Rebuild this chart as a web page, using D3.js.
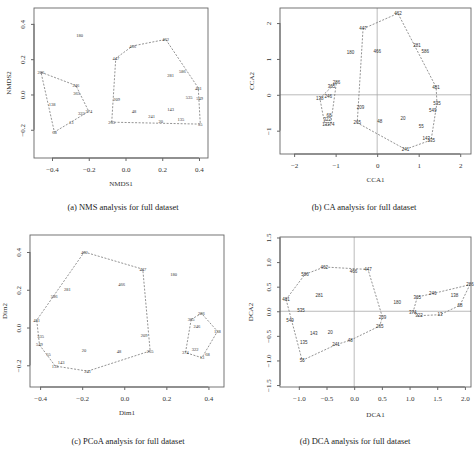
<!DOCTYPE html>
<html><head><meta charset="utf-8">
<script src="https://cdn.jsdelivr.net/npm/d3@7"></script>
<style>body{margin:0;background:#fff}svg text{font-family:"Liberation Serif",serif}</style>
</head><body><svg id="c" width="474" height="474"></svg>
<script>
// [label, x, y]
const nmsPoints = [["180",-0.25,0.332],["286",-0.46,0.126],["246",-0.27,0.051],["365",-0.266,0.004],["138",-0.4,-0.058],["374",-0.2,-0.096],["322",-0.24,-0.106],["13",-0.295,-0.157],["68",-0.387,-0.213],
  ["447",-0.053,0.205],["466",0.039,0.275],["462",0.219,0.312],["281",0.246,0.11],["586",0.309,0.128],["481",0.396,0.037],["535",0.346,-0.015],["549",0.404,-0.024],["209",-0.048,-0.03],["48",0.046,-0.096],["143",0.246,-0.083],["241",0.142,-0.125],["20",0.192,-0.153],["135",0.301,-0.143],["265",-0.075,-0.157],["55",0.407,-0.168]];
const nmsHulls = [["286","246","374","68"],["265","447","466","462","481","55"]];

const caPoints = [["462",0.5,2.27],["447",-0.34,1.84],["180",-0.64,1.19],["466",0,1.22],["281",0.96,1.38],["586",1.16,1.2],["481",1.42,0.21],["535",1.44,-0.23],["549",1.34,-0.44],["209",-0.4,-0.34],["20",0.62,-0.65],["48",0.06,-0.73],["55",1.06,-0.87],["265",-0.48,-0.78],["143",1.18,-1.22],["135",1.3,-1.26],["241",0.68,-1.52],
  ["286",-0.98,0.35],["365",-1.1,0.22],["246",-1.18,-0.04],["138",-1.38,-0.1],["68",-1.16,-0.57],["322",-1.2,-0.69],["13",-1.26,-0.83],["374",-1.12,-0.83]];
const caHulls = [["138","365","286","374","13"],["447","462","481","535","135","241","265"]];

const pcoaPoints = [["462",-0.19,0.4],["447",0.088,0.309],["180",0.234,0.279],["466",-0.012,0.229],["281",-0.27,0.204],["586",-0.333,0.167],["481",-0.416,0.039],["535",-0.397,-0.046],["549",-0.403,-0.092],["55",-0.36,-0.144],["143",-0.3,-0.183],["135",-0.328,-0.204],["241",-0.174,-0.231],["20",-0.191,-0.121],["48",-0.025,-0.124],["209",0.094,-0.041],["265",0.123,-0.124],
  ["286",0.367,0.075],["365",0.318,0.043],["246",0.345,0.004],["138",0.443,-0.02],["322",0.337,-0.115],["374",0.291,-0.133],["68",0.396,-0.144],["13",0.369,-0.16]];
const pcoaHulls = [["462","447","265","241","135","549","481"],["365","286","138","13","374"]];

const dcaPoints = [["462",-0.54,0.9],["586",-0.89,0.75],["466",-0.01,0.82],["447",0.25,0.85],["481",-1.23,0.24],["281",-0.63,0.33],["535",-0.96,0.02],["549",-1.16,-0.18],["143",-0.73,-0.45],["20",-0.43,-0.43],["135",-0.91,-0.64],["241",-0.33,-0.68],["48",-0.07,-0.59],["55",-0.94,-1.0],["209",0.51,-0.12],["265",0.46,-0.3],["180",0.78,0.18],
  ["365",1.14,0.29],["246",1.42,0.36],["138",1.81,0.33],["286",2.09,0.54],["68",1.91,0.12],["374",1.06,-0.03],["322",1.17,-0.09],["13",1.55,-0.07]];
const dcaHulls = [["481","586","462","447","209","265","48","241","55"],["374","365","246","286","68","13","322"]];

const panels = [
  {pts:nmsPoints, hulls:nmsHulls, box:[34,8,208,158], xd:[-0.498,0.449], yd:[-0.36,0.49], xt:[-0.4,-0.2,0,0.2,0.4], yt:[-0.2,0,0.2,0.4], f:".1f", xl:"NMDS1", yl:"NMDS2", xly:186, ylx:9, cap:"(a) NMS analysis for full dataset", capx:123, capy:210, sans:false, cross:false},
  {pts:caPoints, hulls:caHulls, box:[280,8,471,154], xd:[-2.34,2.26], yd:[-1.65,2.42], xt:[-2,-1,0,1,2], yt:[-1,0,1,2], f:"d", xl:"CCA1", yl:"CCA2", xly:182, ylx:252, cap:"(b) CA analysis for full dataset", capx:364, capy:210, sans:true, cross:true},
  {pts:pcoaPoints, hulls:pcoaHulls, box:[30,235,224,387], xd:[-0.448,0.474], yd:[-0.315,0.49], xt:[-0.4,-0.2,0,0.2,0.4], yt:[-0.2,0,0.2,0.4], f:".1f", xl:"Dim1", yl:"Dim2", xly:415, ylx:5, cap:"(c) PCoA analysis for full dataset", capx:128, capy:444, sans:false, cross:false},
  {pts:dcaPoints, hulls:dcaHulls, box:[280,237,471,387], xd:[-1.34,2.11], yd:[-1.54,1.51], xt:[-1,-0.5,0,0.5,1,1.5,2], yt:[-1.5,-1,-0.5,0,0.5,1,1.5], f:".1f", xl:"DCA1", yl:"DCA2", xly:417, ylx:251, cap:"(d) DCA analysis for full dataset", capx:355, capy:444, sans:true, cross:true}
];

const svg = d3.select("#c");

function drawPanel(p) {
  const [x0,y0,x1,y1] = p.box;
  const x = d3.scaleLinear().domain(p.xd).range([x0,x1]);
  const y = d3.scaleLinear().domain(p.yd).range([y1,y0]);
  const g = svg.append("g");
  const fmt = d3.format(p.f);

  if (p.cross) {
    g.append("line").attr("x1",x(0)).attr("x2",x(0)).attr("y1",y0).attr("y2",y1).attr("stroke","#aaa").attr("stroke-width",0.8);
    g.append("line").attr("x1",x0).attr("x2",x1).attr("y1",y(0)).attr("y2",y(0)).attr("stroke","#aaa").attr("stroke-width",0.8);
  }

  const byLabel = new Map(p.pts.map(d => [d[0], d]));
  p.hulls.forEach(h => {
    const pts = h.map(l => byLabel.get(l));
    g.append("path")
      .attr("d", d3.line().x(d => x(d[1])).y(d => y(d[2]))(pts) + "Z")
      .attr("fill","none").attr("stroke","#777").attr("stroke-width",0.8).attr("stroke-dasharray","2,1.5");
  });

  g.selectAll(".pt").data(p.pts).join("text")
    .attr("x", d => x(d[1])).attr("y", d => y(d[2])).attr("dy","0.35em")
    .attr("text-anchor","middle").attr("font-size",4.5).attr("fill","#333")
    .style("font-family", p.sans ? "'Liberation Sans',sans-serif" : null)
    .text(d => d[0]);

  g.append("rect").attr("x",x0).attr("y",y0).attr("width",x1-x0).attr("height",y1-y0)
    .attr("fill","none").attr("stroke","#666").attr("stroke-width",0.9);

  const xa = g.append("g").attr("transform",`translate(0,${y1})`)
    .call(d3.axisBottom(x).tickValues(p.xt).tickFormat(fmt).tickSize(3).tickSizeOuter(0));
  xa.select(".domain").attr("d",`M${x(p.xt[0])},0H${x(p.xt[p.xt.length-1])}`).attr("stroke","#666");
  xa.selectAll("text").attr("font-size",7).attr("fill","#333").attr("dy","1.1em");
  xa.selectAll("line").attr("stroke","#666");

  const ya = g.append("g").attr("transform",`translate(${x0},0)`)
    .call(d3.axisLeft(y).tickValues(p.yt).tickFormat(fmt).tickSize(3).tickSizeOuter(0));
  ya.select(".domain").attr("d",`M0,${y(p.yt[0])}V${y(p.yt[p.yt.length-1])}`).attr("stroke","#666");
  ya.selectAll("line").attr("stroke","#666");
  ya.selectAll(".tick text").attr("font-size",7).attr("fill","#333")
    .attr("x",null).attr("dy",null).attr("text-anchor","middle")
    .attr("transform","translate(-9,0) rotate(-90)");

  g.append("text").attr("x",(x0+x1)/2).attr("y",p.xly).attr("text-anchor","middle").attr("font-size",7).attr("fill","#333").text(p.xl);
  g.append("text").attr("transform",`translate(${p.ylx},${(y0+y1)/2}) rotate(-90)`).attr("dy","0.35em").attr("text-anchor","middle").attr("font-size",7).attr("fill","#333").text(p.yl);
  g.append("text").attr("x",p.capx).attr("y",p.capy).attr("text-anchor","middle").attr("font-size",8.5).attr("fill","#222").text(p.cap);
}

panels.forEach(drawPanel);
</script></body></html>
